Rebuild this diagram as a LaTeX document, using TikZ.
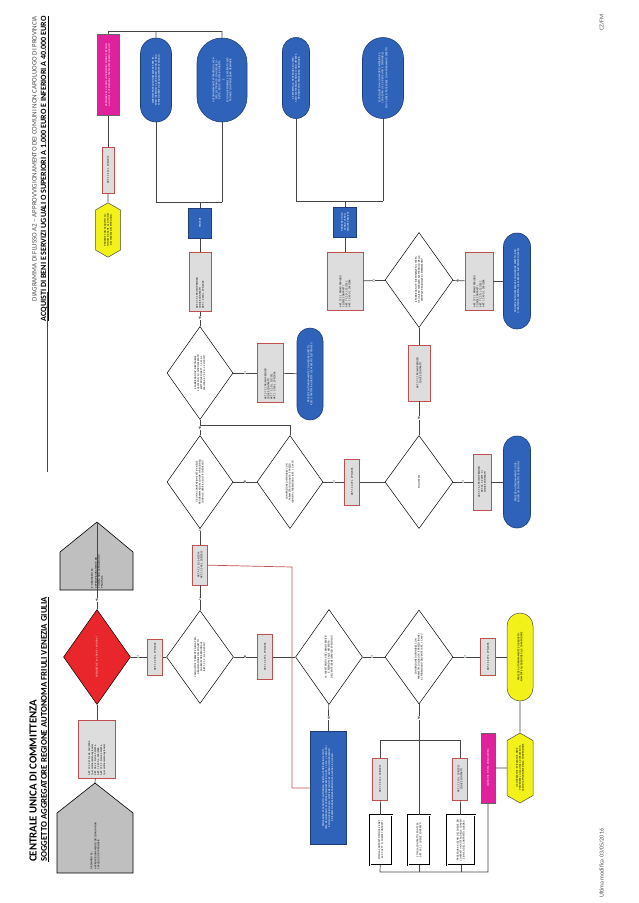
\documentclass[tikz,border=0pt]{standalone}
\usepackage{fontspec}
\setmainfont{Carlito}
\newfontfamily\dvs{DejaVu Sans}
\usetikzlibrary{shapes.geometric,shapes.misc,shapes.symbols}
\definecolor{artred}{HTML}{C0504D}
\definecolor{artgrey}{HTML}{DDDDDD}
\definecolor{bblue}{HTML}{2F63BA}
\definecolor{bbord}{HTML}{1F3E75}
\definecolor{mag}{HTML}{E0219B}
\definecolor{yel}{HTML}{F2F21A}
\definecolor{dred}{HTML}{E8262B}
\definecolor{pgrey}{HTML}{BFBFBF}
\definecolor{lin}{HTML}{444444}
\tikzset{
 base/.style={rotate=90,align=center,inner sep=1pt,font=\fontsize{2.6}{3.0}\selectfont},
 sz/.style n args={3}{minimum width=#1pt,minimum height=#2pt,text width=#3pt},
 art/.style={base,rectangle,draw=artred,fill=artgrey,line width=0.8pt},
 wbox/.style={base,rectangle,draw=black,double,double distance=0.6pt,fill=white,line width=0.4pt},
 blu/.style={base,rounded rectangle,draw=bbord,fill=bblue,text=white,line width=0.6pt},
 brect/.style={base,rectangle,draw=bbord,fill=bblue,text=white,line width=0.6pt},
 dia/.style={base,diamond,draw=black,fill=white,line width=0.5pt,inner sep=0pt},
 hexa/.style={base,signal,signal to=east and west,signal pointer angle=120,draw=black!70,fill=yel,line width=0.5pt},
 ystad/.style={base,rounded rectangle,draw=black!70,fill=yel,line width=0.5pt},
 magb/.style={base,rectangle,draw=black!60,fill=mag,text=white,line width=0.5pt},
 lbl/.style={fill=white,inner sep=0.3pt,font=\fontsize{3}{3}\selectfont,rotate=90},
 con/.style={draw=lin,line width=0.7pt},
 pent/.style={draw=black,fill=pgrey,line width=0.6pt},
}
\begin{document}
\begin{tikzpicture}[x=1pt,y=-1pt]
\useasboundingbox (0,0) rectangle (638,903);
% headers
\node[rotate=90,anchor=south west,inner sep=0pt,font=\bfseries] (h1) at (37,862) {\resizebox{162pt}{!}{CENTRALE UNICA DI COMMITTENZA}};
\node[rotate=90,anchor=south west,inner sep=0pt,font=\bfseries] (h2) at (49,862) {\resizebox{265pt}{!}{\underline{SOGGETTO AGGREGATORE REGIONE AUTONOMA FRIULI VENEZIA GIULIA}}};
\node[rotate=90,anchor=south east,inner sep=0pt,text=black!70] (h3) at (37,16) {\resizebox{285pt}{!}{DIAGRAMMA DI FLUSSO A2 – APPROVVIGIONAMENTO DEI COMUNI NON CAPOLUOGO DI PROVINCIA}};
\node[rotate=90,anchor=south east,inner sep=0pt,font=\bfseries] (h4) at (49,16) {\resizebox{305pt}{!}{\underline{ACQUISTI DI BENI E SERVIZI UGUALI O SUPERIORI A 1.000 EURO E INFERIORI A 40.000 EURO}}};
\coordinate (s1) at (47,292); \coordinate (s2) at (47,472);
\draw[lin,line width=0.5pt] (s1) -- (s2);
\node[rotate=90,anchor=south west,inner sep=0pt,text=black!70,font=\fontsize{6}{6}\selectfont] (ft) at (604,898) {Ultima modifica 03/05/2016};
\node[rotate=90,anchor=south east,inner sep=0pt,text=black!70,font=\fontsize{6}{6}\selectfont] (cz) at (604,14) {CZ/FM};

% pentagons
\draw[pent] (57,873) -- (57,813) -- (95,783) -- (133,813) -- (133,873) -- cycle;
\coordinate (P1t) at (95,783);
\node[base,text width=52pt,align=left] (P1) at (95,843) {ORDINARIO A2:\\[1pt] APPROVVIGIONAMENTO DEI COMUNI NON CAPOLUOGO DI PROVINCIA};
\draw[pent] (60,590) -- (60,552) -- (97,522) -- (133,552) -- (133,590) -- cycle;
\coordinate (P2t) at (97,522);
\node[base,text width=34pt,align=left] (P2) at (97,571) {E' ORDINARIO A2:\\[1pt] APPROVVIGIONAMENTO DEI COMUNI NON CAPOLUOGO DI PROVINCIA};

% main column
\node[art,sz={58}{37}{52},align=left] (R0) at (97,749) {ART. 125 C.11 D.LGS. 163/2006\\(per ordinamento regionale)\\ART. 36 C.2 D.LGS. 50/2016\\ART. 1 C.450 L. 296/2006\\ART. 37 C.1 D.LGS. 50/2016\\(per ordinamento regionale)};
\node[dia,fill=dred,text=white,sz={95}{67}{50}] (D0) at (97,657) {L'ACQUISTO E' {\dvs ≥} 1.000 E < 40.000 €?};
\node[art,sz={36}{15}{32}] (R1) at (155,657) {ART. 1 C.450 L. 296/2006};
\node[dia,sz={93}{67}{46}] (D1) at (200,657) {L'ACQUISTO E' PRESENTE NELLA PROGRAMMAZIONE DEL SOGGETTO AGGREGATORE REGIONALE (ARTT. 9 C.3 D.L. 66/2014)?};
\node[art,sz={40}{15}{36}] (R2) at (200,565) {ART. 9 C.3 D.L. 66/2014\\ART. 1 C.548 L. 208/2015};
\node[art,sz={45}{15}{40}] (R3) at (265,657) {ART. 1 C.449 L. 296/2006};
\node[dia,sz={95}{67}{48}] (D2) at (329,657) {LA CARATTERISTICA DEL BENE/SERVIZIO E' ESSENZIALE ALLE NECESSITA' DELL'ENTE (BENE/SERVIZIO SPECIFICO)?};
\node[brect,sz={113}{36}{105}] (B1) at (328,788) {PROCEDURA DI ACQUISTO AUTONOMA PREVIA AUTORIZZAZIONE MOTIVATA DELL'ORGANO DI VERTICE AMMINISTRATIVO (ART. 1 C.510 L. 208/2015) E COMUNICAZIONE ALLA CORTE DEI CONTI; SE L'APPROVVIGIONAMENTO E' RICHIESTO PER ESIGENZE PARTICOLARI, ALL'ANAC E ALL'AGID};
\node[dia,sz={94}{68}{48}] (D3) at (419,657) {CONVENZIONE DISPONIBILE CON PARAMETRI DI QUALITA' E PREZZO IDONEI AL FABBISOGNO DELL'ENTE (ART. 1 C.449)?};
\node[art,sz={42}{15}{38}] (R5) at (380,779) {ART. 1 C.512 L. 208/2015};
\node[wbox,sz={50}{22}{44}] (W1) at (381,840) {STIPULA CONTRATTO PONTE EX ART. 63 C.2 LETT. C) CODICE CONTRATTI};
\node[wbox,sz={50}{22}{44}] (W2) at (419,840) {STIPULA CONTRATTO PONTE EX ART. 63 C.2 CODICE CONTRATTI};
\node[art,sz={42}{15}{38}] (R6) at (460,779) {ART. 1 C.510 L. 208/2015\\CODICE CONTRATTI};
\node[wbox,sz={50}{28}{44}] (W3) at (461,840) {PROCEDURA AI SENSI DEL CODICE DEI CONTRATTI IN ATTESA DELLA CONVENZIONE O DEL CONTRATTO QUADRO};
\node[magb,sz={70}{14}{64}] (M1) at (488,768) {L'ADESIONE E' RESA OBBLIGATORIA};
\node[art,sz={37}{15}{33}] (R7) at (488,657) {ART. 1 C.449 L. 296/2006};
\node[ystad,sz={90}{26}{70}] (Y1) at (520,657) {PROCEDE AUTONOMAMENTE E OBBLIGATORIAMENTE ALL'ADESIONE ALLA CONVENZIONE};
\node[hexa,sz={70}{26}{52}] (Y2) at (520,768) {IL CONTRATTO E' STIPULATO E DEVE PREVEDERE LA CLAUSOLA DI RECESSO IN CASO DI ATTIVAZIONE DELLA CONVENZIONE};

% middle
\node[dia,sz={93}{66}{46}] (D6) at (200,482) {C'E' UNA CONVENZIONE ATTIVA NELLE PROGRAMMAZIONI CONSIP O REGIONALI (DOPO LA VERIFICA SUI SITI DEDICATI)?};
\node[dia,sz={93}{66}{44}] (D5) at (290,482) {CONVENZIONE DISPONIBILE CON PARAMETRI DI QUALITA' E PREZZO IDONEI AL FABBISOGNO (ART. 1 C.449)?};
\node[art,sz={46}{15}{42}] (R8) at (352,482) {ART. 1 C.449 L. 296/2006};
\node[dia,sz={93}{68}{40}] (D7) at (419,482) {SOLO MEPA?};
\node[art,sz={56}{18}{50}] (R9) at (482,482) {ART. 37 C.1 PRIMO PERIODO\\ART. 36 C.2 LETT. A)\\CODICE CONTRATTI};
\node[blu,sz={94}{27}{74}] (B2) at (517,482) {PROCEDE AUTONOMAMENTE UTILIZZANDO UN CONTRATTO DI ADESIONE};
\node[dia,sz={93}{66}{46}] (D4) at (200,373) {IL FABBISOGNO E' DISPONIBILE SUL MEPA O SU ALTRO MERCATO ELETTRONICO (ARTT. 1 C.450 L. 296/2006 E 7 C.2 D.L. 52/2012)?};
\node[art,sz={59}{26}{53},align=left] (R13) at (270,373) {ART. 37 C.1 PRIMO PERIODO\\CODICE CONTRATTI\\ART. 7 C.2 D.L. 52/2012\\ART. 1 C.450 L. 296/2006};
\node[blu,sz={94}{26}{74}] (B6) at (310,374) {PROCEDE AUTONOMAMENTE CON ORDINE DIRETTO, RDO O TRATTATIVA DIRETTA SUL MERCATO ELETTRONICO};
\node[art,sz={56}{22}{50}] (R10) at (419,373) {ART. 37 C.1 PRIMO PERIODO\\CODICE CONTRATTI};
\node[dia,sz={95}{68}{48}] (D8) at (419,280) {IL FABBISOGNO E' DISPONIBILE SUL MEPA O SU ALTRO MERCATO ELETTRONICO DELLA CENTRALE REGIONALE DI RIFERIMENTO?};
\node[art,sz={58}{36}{52},align=left] (R11) at (345,281) {ART. 37 C.1 PRIMO PERIODO\\CODICE CONTRATTI\\ART. 7 C.2 D.L. 52/2012\\ART. 1 C.450 L. 296/2006};
\node[art,sz={58}{28}{52},align=left] (R12) at (479,281) {ART. 37 C.1 PRIMO PERIODO\\CODICE CONTRATTI\\ART. 7 C.2 D.L. 52/2012\\ART. 1 C.450 L. 296/2006};
\node[blu,sz={98}{27}{78}] (B3) at (517,281) {PROCEDE AUTONOMAMENTE CON ORDINE DIRETTO, RDO O TRATTATIVA DIRETTA SUL MERCATO ELETTRONICO (MEPA)};
\node[art,sz={59}{22}{53},align=left] (R14) at (200,282) {ART. 37 C.1 PRIMO PERIODO\\CODICE CONTRATTI\\ART. 1 C.450 L. 296/2006};
\node[brect,sz={30}{23}{26}] (BB1) at (200,223) {PROCEDE};
\node[brect,sz={30}{23}{26}] (BB2) at (345,222) {PROCEDE UTILIZZANDO LE PROCEDURE PREVISTE};

% top
\node[blu,sz={86}{31}{68}] (B7) at (156,80) {DIRETTAMENTE AUTONOMAMENTE PER IMPORTI INFERIORI A 1.000 EURO O CON AFFIDAMENTO DIRETTO ADEGUATAMENTE MOTIVATO};
\node[blu,sz={86}{50}{62}] (B8) at (222,80) {AUTONOMAMENTE ATTRAVERSO IL MERCATO ELETTRONICO CON ORDINE DIRETTO, RDO O TRATTATIVA DIRETTA\\[1pt] E\\[1pt] SE NON DISPONIBILE SUL MERCATO ELETTRONICO CON PROCEDURA ORDINARIA};
\node[blu,sz={83}{27}{66}] (B4) at (296,78) {SE ESPERITA LA PROCEDURA SUL MERCATO ELETTRONICO NON CI SONO OFFERTE, PROCEDE CON PROCEDURA ORDINARIA};
\node[blu,sz={83}{41}{62}] (B5) at (383,78) {SE L'ACQUISTO HA UN IMPORTO INFERIORE A 1.000 EURO O SE IL BENE NON E' DISPONIBILE\\[1pt] PUO' ALTRESI' PROCEDERE CON AFFIDAMENTO DIRETTO};
\node[magb,sz={81}{22}{74}] (M0) at (108,75) {VERIFICARE SE VI SONO CONVENZIONI CONSIP O REGIONALI ATTIVE E UTILIZZARNE I PARAMETRI PREZZO-QUALITA'};
\node[art,sz={46}{12}{42}] (R15) at (108,170) {ART. 1 C.512 L. 208/2015};
\node[hexa,sz={50}{25}{38}] (Y0) at (108,230) {PROCEDE CON ACQUISTO AUTONOMO ANCHE AL DI FUORI DEL MERCATO ELETTRONICO};

% junction coordinates
\coordinate (j1) at (419,740); \coordinate (j1a) at (380,740); \coordinate (j1b) at (460,740);
\coordinate (j2a) at (380,872); \coordinate (j2b) at (488,872);
\coordinate (j3) at (292,567); \coordinate (j4) at (292,788);
\coordinate (j5) at (200,425); \coordinate (j6) at (290,425);
\coordinate (j7) at (345,201); \coordinate (j7a) at (296,201); \coordinate (j7b) at (383,201);
\coordinate (j8) at (200,202); \coordinate (j8a) at (156,202); \coordinate (j8b) at (222,202);
\coordinate (j9) at (108,31); \coordinate (j9a) at (156,31); \coordinate (j9b) at (222,31);

% connectors
\draw[con] (P1t) -- (R0); \draw[con] (R0) -- (D0); \draw[con] (D0) -- (P2t);
\draw[con] (D0) -- (R1); \draw[con] (R1) -- (D1); \draw[con] (D1) -- (R2); \draw[con] (R2) -- (D6);
\draw[con] (D1) -- (R3); \draw[con] (R3) -- (D2); \draw[con] (D2) -- (D3); \draw[con] (D2) -- (B1);
\draw[con] (D3) -- (R7); \draw[con] (R7) -- (Y1); \draw[con] (Y1) -- (Y2); \draw[con] (M1) -- (Y2);
\draw[con] (D3) -- (j1); \draw[con] (j1a) -- (j1b);
\draw[con] (j1a) -- (R5); \draw[con] (R5) -- (W1); \draw[con] (j1) -- (W2);
\draw[con] (j1b) -- (R6); \draw[con] (R6) -- (W3);
\draw[con] (W1) -- (j2a) -- (j2b) -- (M1);
\draw[con] (W2) -- (W2 |- j2a); \draw[con] (W3) -- (W3 |- j2a);
\draw[artred,line width=0.7pt] (R2) -- (j3) -- (j4) -- (B1);
\draw[con] (D6) -- (D5); \draw[con] (D6) -- (D4); \draw[con] (j5) -- (j6) -- (D5);
\draw[con] (D5) -- (R8); \draw[con] (R8) -- (D7); \draw[con] (D7) -- (R9); \draw[con] (R9) -- (B2);
\draw[con] (D7) -- (R10); \draw[con] (R10) -- (D8); \draw[con] (D8) -- (R11); \draw[con] (D8) -- (R12);
\draw[con] (R12) -- (B3); \draw[con] (R11) -- (BB2); \draw[con] (BB2) -- (j7);
\draw[con] (j7a) -- (j7b); \draw[con] (j7a) -- (B4); \draw[con] (j7b) -- (B5);
\draw[con] (D4) -- (R13); \draw[con] (R13) -- (B6); \draw[con] (D4) -- (R14); \draw[con] (R14) -- (BB1);
\draw[con] (BB1) -- (j8); \draw[con] (j8a) -- (j8b); \draw[con] (j8a) -- (B7); \draw[con] (j8b) -- (B8);
\draw[con] (j9) -- (j9b); \draw[con] (j9a) -- (B7); \draw[con] (j9b) -- (B8);
\draw[con] (j9) -- (M0); \draw[con] (M0) -- (R15); \draw[con] (R15) -- (Y0);

% labels
\node[lbl] (l1) at (97,600) {NO};
\node[lbl] (l2) at (138,657) {SI};
\node[lbl] (l3) at (200,599) {SI};
\node[lbl] (l4) at (245,657) {NO};
\node[lbl] (l5) at (372,657) {SI};
\node[lbl] (l6) at (329,718) {NO};
\node[lbl] (l7) at (465,657) {SI};
\node[lbl] (l8) at (419,718) {NO};
\node[lbl] (l9) at (200,530) {SI};
\node[lbl] (l10) at (245,482) {NO};
\node[lbl] (l11) at (334,482) {SI};
\node[lbl] (l12) at (463,482) {SI};
\node[lbl] (l13) at (419,418) {NO};
\node[lbl] (l14) at (374,281) {SI};
\node[lbl] (l15) at (458,281) {NO};
\node[lbl] (l16) at (245,373) {SI};
\node[lbl] (l17) at (200,318) {NO};
\node[lbl] (l18) at (200,428) {NO};
\end{tikzpicture}
\end{document}
